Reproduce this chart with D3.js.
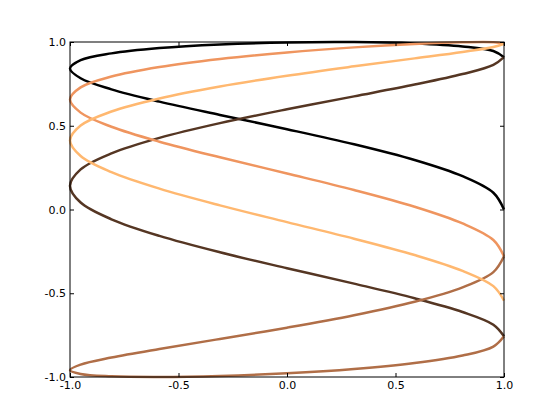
<!DOCTYPE html>
<meta charset="utf-8">
<body style="margin:0;background:#fff">
<div id="chart"></div>
<script src="https://d3js.org/d3.v7.min.js"></script>
<script>
// x positions shared by every curve (21 samples)
var xs = [1, 0.951, 0.809, 0.588, 0.309, 0, -0.309, -0.588, -0.809, -0.951, -1,
          -0.951, -0.809, -0.588, -0.309, 0, 0.309, 0.588, 0.809, 0.951, 1];

// y values read per curve, in the same order as xs
var y0 = [0, 0.0998, 0.1987, 0.2955, 0.3894, 0.4794, 0.5646, 0.6442, 0.7174, 0.7833, 0.8415,
          0.8912, 0.9320, 0.9636, 0.9854, 0.9975, 0.9996, 0.9917, 0.9738, 0.9463, 0.9093];
var y1 = [0.9093, 0.8632, 0.8085, 0.7457, 0.6755, 0.5985, 0.5155, 0.4274, 0.3350, 0.2392, 0.1411,
          0.0416, -0.0584, -0.1577, -0.2555, -0.3508, -0.4425, -0.5298, -0.6119, -0.6878, -0.7568];
var y2 = [-0.7568, -0.8183, -0.8716, -0.9162, -0.9516, -0.9775, -0.9937, -0.9999, -0.9962, -0.9825, -0.9589,
          -0.9258, -0.8835, -0.8323, -0.7728, -0.7055, -0.6313, -0.5507, -0.4646, -0.3739, -0.2794];
var y3 = [-0.2794, -0.1822, -0.0831, 0.0168, 0.1165, 0.2151, 0.3115, 0.4048, 0.4941, 0.5784, 0.6570,
          0.7290, 0.7937, 0.8504, 0.8987, 0.9380, 0.9679, 0.9882, 0.9985, 0.9989, 0.9894];
var y4 = [0.9894, 0.9699, 0.9407, 0.9022, 0.8546, 0.7985, 0.7344, 0.6630, 0.5849, 0.5010, 0.4121,
          0.3191, 0.2229, 0.1245, 0.0248, -0.0752, -0.1743, -0.2718, -0.3665, -0.4575, -0.5440];
var series = [y0, y1, y2, y3, y4];
var colors = ["#000000", "#553623", "#b06e47", "#ef955f", "#ffb870"];

var xTicks = [-1.0, -0.5, 0.0, 0.5, 1.0];
var yTicks = [-1.0, -0.5, 0.0, 0.5, 1.0];

var W = 560, H = 420;
var margin = {top: 42, right: 56, bottom: 43, left: 70};
var width = W - margin.left - margin.right,
    height = H - margin.top - margin.bottom;

var x = d3.scaleLinear().domain([-1, 1]).range([0, width]);
var y = d3.scaleLinear().domain([-1, 1]).range([height, 0]);

var svg = d3.select("#chart").append("svg")
  .attr("width", W).attr("height", H);
var g = svg.append("g")
  .attr("transform", "translate(" + margin.left + "," + margin.top + ")");

var line = d3.line()
  .x(function(d) { return x(d[0]); })
  .y(function(d) { return y(d[1]); })
  .curve(d3.curveCatmullRom);

series.forEach(function(s, i) {
  g.append("path")
    .datum(s.map(function(v, k) { return [xs[k], v]; }))
    .attr("fill", "none")
    .attr("stroke", colors[i])
    .attr("stroke-width", 2.5)
    .attr("d", line);
});

g.append("rect")
  .attr("width", width).attr("height", height)
  .attr("fill", "none").attr("stroke", "#000").attr("stroke-width", 1);

// plain hyphen for negatives, like the reference
var fmt = function(d) { return d.toFixed(1); };
function styleAxis(sel) {
  sel.select(".domain").remove();
  sel.selectAll("text").attr("font-family", "DejaVu Sans").attr("font-size", 11).attr("fill", "#000");
}
g.append("g").attr("transform", "translate(0," + height + ")")
  .call(d3.axisBottom(x).tickValues(xTicks).tickFormat(fmt).tickSizeInner(-4).tickPadding(4))
  .call(styleAxis);
g.append("g")
  .call(d3.axisTop(x).tickValues(xTicks).tickFormat("").tickSizeInner(-4))
  .call(styleAxis);
g.append("g")
  .call(d3.axisLeft(y).tickValues(yTicks).tickFormat(fmt).tickSizeInner(-4).tickPadding(4))
  .call(styleAxis);
g.append("g").attr("transform", "translate(" + width + ",0)")
  .call(d3.axisRight(y).tickValues(yTicks).tickFormat("").tickSizeInner(-4))
  .call(styleAxis);
</script>
</body>
